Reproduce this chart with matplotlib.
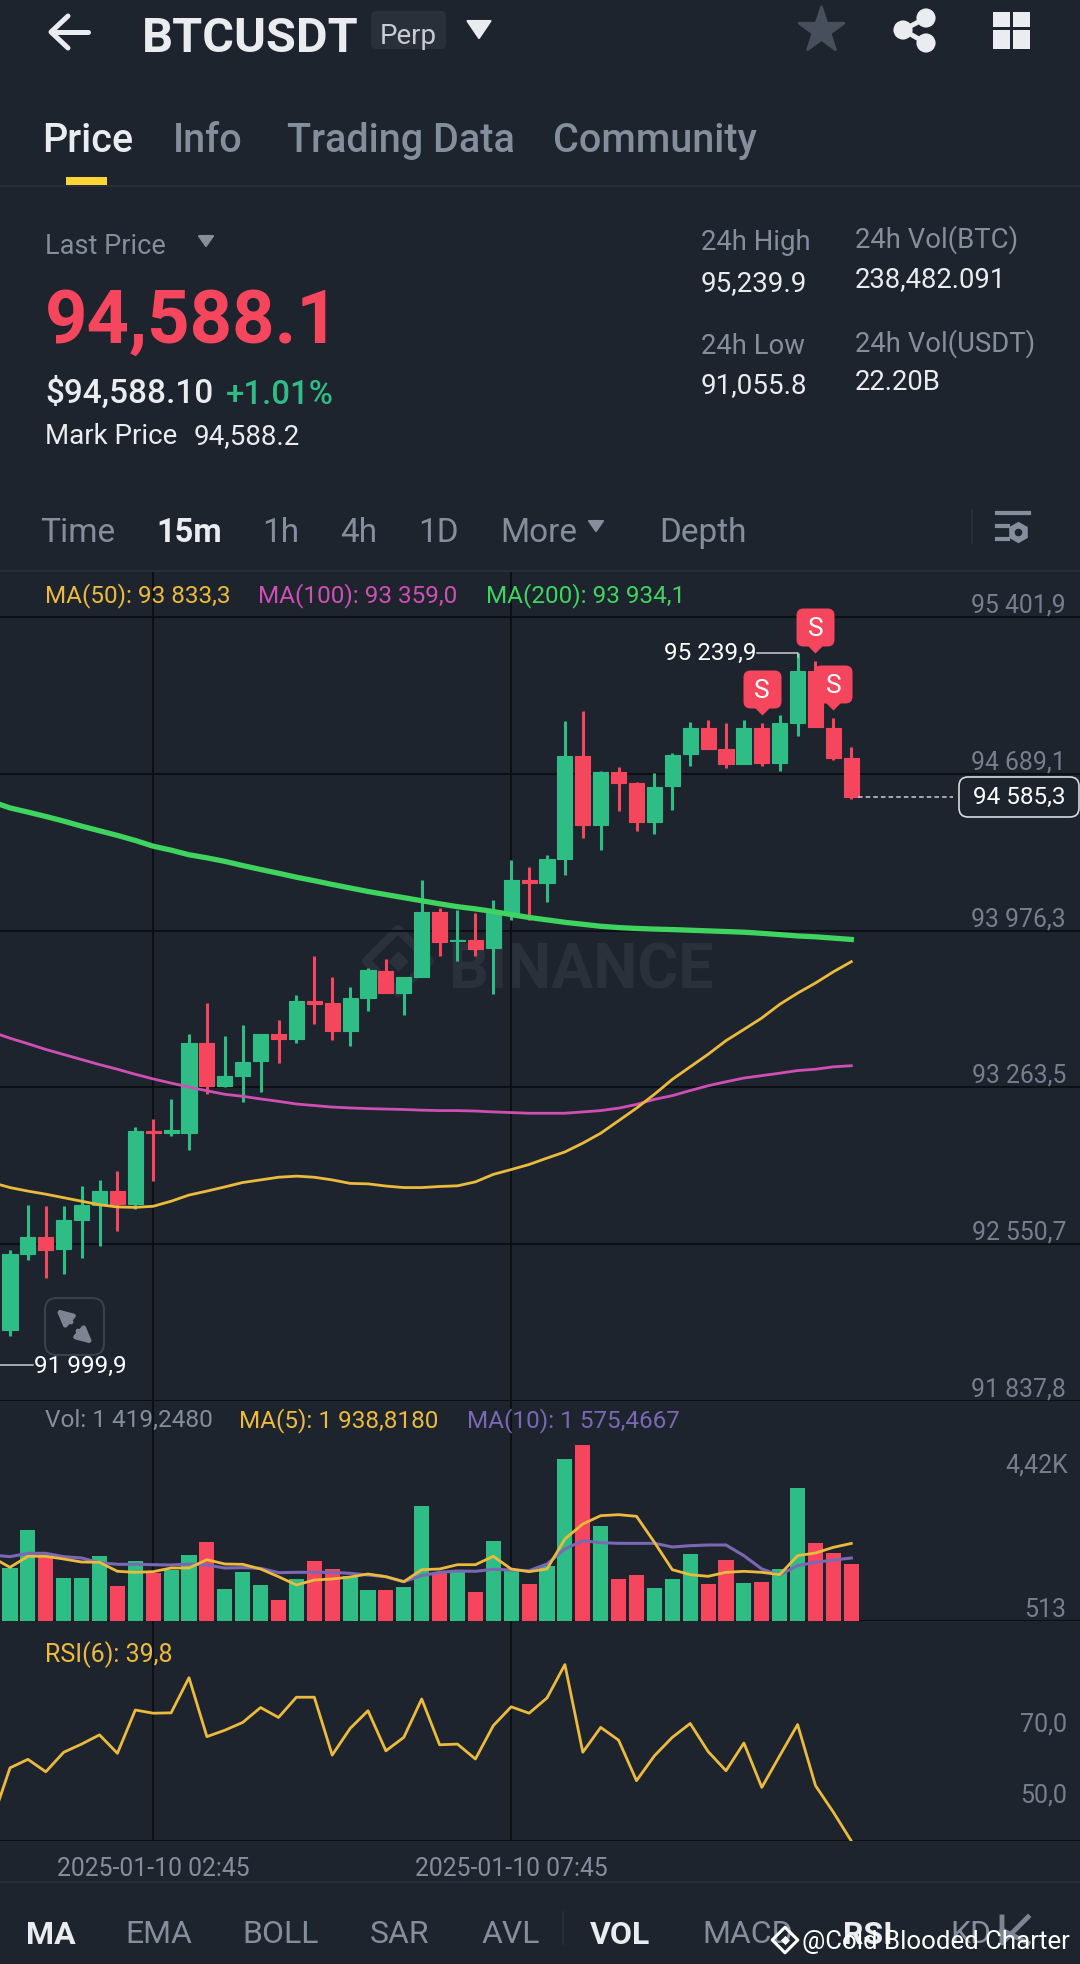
import matplotlib
matplotlib.use("Agg")
import matplotlib.pyplot as plt
import numpy as np
from matplotlib.patches import FancyBboxPatch, Polygon, Rectangle
from matplotlib.path import Path

plt.rcParams['font.family'] = ['Roboto', 'DejaVu Sans']

BG = '#1e242e'
GRID = '#0c0f14'
SEP = '#2b3139'
GREY = '#848e9c'
WHITE = '#eaecef'
GREEN = '#2ebd85'
RED = '#f6465d'
YELLOW = '#ecbb3c'
PINK = '#d04fb4'
LIME = '#3fd45f'
PURPLE = '#7a68b5'
DIM = '#767f8d'

opens = [92160, 92507, 92584, 92528, 92662, 92727, 92792, 92732, 93063, 93054, 93058, 93466,
         93269, 93316, 93383, 93508, 93485, 93654, 93649, 93522, 93668, 93793, 93691, 93767,
         94061, 93927, 93934, 93895, 94057, 94205, 94194, 94302, 94771, 94458, 94695, 94645,
         94471, 94632, 94777, 94897, 94804, 94735, 94898, 94739, 94922, 95158, 94898, 94759]
closes = [92507, 92584, 92526, 92662, 92727, 92792, 92732, 93063, 93054, 93068, 93466, 93269,
          93313, 93380, 93508, 93485, 93654, 93642, 93522, 93668, 93795, 93691, 93765, 94061,
          93925, 93934, 93893, 94064, 94206, 94194, 94300, 94771, 94455, 94695, 94647, 94471,
          94630, 94775, 94897, 94804, 94735, 94898, 94738, 94919, 95158, 94900, 94759, 94585.3]
highs = [92526, 92727, 92723, 92723, 92815, 92843, 92885, 93084, 93121, 93209, 93505, 93649,
         93499, 93547, 93508, 93570, 93682, 93862, 93765, 93719, 93807, 93848, 93765, 94207,
         94079, 94072, 94057, 94114, 94299, 94266, 94322, 94928, 94974, 94700, 94720, 94653,
         94692, 94783, 94924, 94934, 94922, 94934, 94922, 94957, 95239.9, 95202, 94945, 94809]
lows = [92132, 92479, 92396, 92415, 92486, 92542, 92611, 92711, 92836, 93042, 92977, 93232,
        93267, 93195, 93244, 93376, 93466, 93552, 93478, 93450, 93612, 93691, 93594, 93765,
        93860, 93837, 93860, 93690, 94026, 94023, 94105, 94228, 94399, 94343, 94521, 94427,
        94417, 94526, 94723, 94804, 94715, 94735, 94726, 94704, 94862, 94900, 94753, 94574]

# the averages start one bar left of the first candle, off the edge
ma50 = [92831, 92808, 92792, 92778, 92762, 92746, 92730, 92720, 92718, 92723, 92746, 92774, 92792,
        92811, 92831, 92843, 92855, 92860, 92855, 92843, 92827, 92825, 92815, 92808, 92808, 92813,
        92816, 92834, 92868, 92890, 92913, 92942, 92970, 93010, 93055, 93112, 93169, 93232, 93300,
        93357, 93414, 93476, 93527, 93579, 93641, 93692, 93738, 93789, 93835]
ma100 = [93515, 93487, 93462, 93436, 93413, 93390, 93367, 93346, 93323, 93302, 93283, 93265, 93248,
         93232, 93223, 93211, 93200, 93188, 93181, 93174, 93170, 93167, 93165, 93163, 93160, 93158,
         93158, 93156, 93152, 93149, 93146, 93146, 93146, 93152, 93158, 93169, 93186, 93209, 93226,
         93249, 93271, 93289, 93306, 93317, 93328, 93340, 93346, 93357, 93362]
ma200 = [94562, 94534, 94515, 94495, 94474, 94451, 94430, 94409, 94386, 94360, 94342, 94321, 94307,
         94291, 94272, 94254, 94237, 94219, 94203, 94186, 94170, 94154, 94140, 94126, 94112, 94098,
         94085, 94075, 94063, 94049, 94036, 94025, 94014, 94005, 93996, 93990, 93986, 93983, 93981,
         93978, 93975, 93972, 93969, 93964, 93958, 93952, 93948, 93942, 93936]

volumes = [1333, 2275, 1633, 1067, 1083, 1617, 867, 1492, 1192, 1275, 1650, 1967, 800, 1217, 908, 525,
           1050, 1492, 1300, 1133, 767, 767, 842, 2875, 1192, 1217, 725, 2000, 1258, 917, 1383, 4042,
           4400, 2375, 1042, 1142, 817, 1050, 1683, 925, 1525, 950, 967, 1300, 3325, 1942, 1692, 1419]
vol_ma5 = [1592, 1342, 1617, 1617, 1550, 1475, 1467, 1242, 1217, 1233, 1325, 1325, 1533, 1425, 1417,
           1300, 1108, 900, 1025, 1050, 1100, 1175, 1108, 983, 1283, 1300, 1408, 1408, 1617, 1300,
           1233, 1300, 2050, 2425, 2633, 2658, 2617, 1967, 1283, 1158, 1117, 1217, 1242, 1217, 1158,
           1633, 1700, 1842, 1939]
vol_ma10 = [1650, 1608, 1692, 1692, 1608, 1575, 1458, 1417, 1417, 1408, 1400, 1425, 1400, 1325, 1333,
            1317, 1208, 1217, 1217, 1217, 1192, 1150, 1108, 983, 1133, 1217, 1250, 1242, 1292, 1275,
            1258, 1425, 1800, 2008, 1958, 1942, 1942, 1942, 1850, 1883, 1900, 1900, 1633, 1300, 1150,
            1383, 1467, 1525, 1575]
rsi = [45.5, 60.4, 62.8, 59.3, 64.8, 67.1, 69.7, 64.5, 76.7, 75.8, 75.9, 85.8, 69.2, 71.0, 73.2, 77.4,
       74.6, 80.3, 80.3, 64.0, 71.5, 76.5, 65.2, 69.0, 79.8, 66.9, 67.1, 62.9, 72.3, 77.6, 75.8, 80.1,
       89.5, 64.8, 71.8, 68.2, 56.8, 63.8, 69.0, 72.9, 65.0, 59.6, 67.4, 54.9, 63.8, 72.6, 55.4, 47.9, 39.8]

price_ticks = [95401.9, 94689.1, 93976.3, 93263.5, 92550.7, 91837.8]
time_ticks = [8, 28]
time_labels = ['2025-01-10 02:45', '2025-01-10 07:45']
sell_bars = [42, 45, 46]


def dotted(v):
  return f"{v:,.1f}".replace(",", " ").replace(".", ",")


W, H = 1080, 1965
fig = plt.figure(figsize=(W / 100, H / 100), dpi=100, facecolor=BG)

ui = fig.add_axes([0, 0, 1, 1], zorder=0)
ui.set_xlim(0, W)
ui.set_ylim(H, 0)
ui.axis('off')
# texts that sit over the chart lines
ov = fig.add_axes([0, 0, 1, 1], zorder=10)
ov.patch.set_visible(False)
ov.set_xlim(0, W)
ov.set_ylim(H, 0)
ov.axis('off')


def pane(top, bottom):
  a = fig.add_axes([0, 1 - bottom / H, 1, (bottom - top) / H], zorder=5)
  a.patch.set_visible(False)
  a.set_xlim(-10 / 17.9, (W - 10) / 17.9)
  for s in a.spines.values():
    s.set_visible(False)
  a.tick_params(length=0, labelleft=False, labelbottom=False)
  a.set_xticks(time_ticks)
  a.grid(True, color=GRID, lw=1.5, zorder=0)
  a.set_axisbelow(True)
  return a


def put(x, y, s, size, color=GREY, weight='normal', ha='left', where=None):
  (where or ui).text(x, y, s, fontsize=size, color=color, fontweight=weight, ha=ha, va='center_baseline')


def tri(cx, top, w, h, color):
  ui.add_patch(Polygon([(cx - w / 2, top), (cx + w / 2, top), (cx, top + h)], fc=color, ec=color, lw=1.5, joinstyle='round'))


# header
ui.plot([52, 88], [33, 33], color=WHITE, lw=3.6, solid_capstyle='round')
ui.plot([68, 51, 68], [17, 33, 49], color=WHITE, lw=3.6, solid_capstyle='round', solid_joinstyle='round')
put(142, 34, 'BTCUSDT', 35, WHITE, 'bold')
ui.add_patch(FancyBboxPatch((371, 12), 75, 38, boxstyle='round,pad=0,rounding_size=5', fc='#2a3039', ec='none'))
put(408, 33, 'Perp', 20, '#c8cdd4', ha='center')
tri(479, 22, 23, 17, WHITE)
ui.scatter([821], [31], marker='*', s=1150, color='#474f5c', edgecolors='#474f5c', linewidths=2, joinstyle='round')
ui.plot([926, 903, 926], [19, 31, 44], color=WHITE, lw=3.5)
ui.scatter([926, 903, 926], [19, 31, 44], s=[190, 190, 190], color=WHITE, linewidths=0)
for gx, gy, gw, gh in [(993, 13, 17, 15), (1013, 13, 17, 15), (993, 31, 17, 19), (1013, 31, 17, 19)]:
  ui.add_patch(Rectangle((gx, gy), gw, gh, fc=WHITE, ec='none'))

# tabs
put(42, 137, 'Price', 28.5, WHITE, 'medium')
put(173, 137, 'Info', 28.5, GREY, 'medium')
put(287, 137, 'Trading Data', 28.5, GREY, 'medium')
put(553, 137, 'Community', 28.5, GREY, 'medium')
ui.plot([0, W], [186.5, 186.5], color=SEP, lw=1.2)
ui.add_patch(Rectangle((66, 178), 41, 8, fc='#fcd535', ec='none'))

# price block
put(45, 244, 'Last Price', 19.5)
tri(206, 237, 14, 10, GREY)
put(45, 315, '94,588.1', 53.5, RED, 'bold')
put(45, 390, '$94,588.10', 24, WHITE, 'medium')
put(226, 391, '+1.01%', 23.7, GREEN, 'medium')
put(45, 434, 'Mark Price', 20, WHITE)
put(194, 434, '94,588.2', 20, WHITE)
put(701, 239, '24h High', 19.8)
put(701, 281, '95,239.9', 20, WHITE)
put(701, 343, '24h Low', 19.8)
put(701, 383, '91,055.8', 20, WHITE)
put(855, 236, '24h Vol(BTC)', 19.8)
put(855, 277, '238,482.091', 19.8, WHITE)
put(855, 340, '24h Vol(USDT)', 19.8)
put(855, 380, '22.20B', 19.8, WHITE)

# interval row
for lx, label in [(40, 'Time'), (262, '1h'), (340, '4h'), (418, '1D'), (500, 'More'), (659, 'Depth')]:
  put(lx, 530, label, 24)
put(156, 530, '15m', 23.5, WHITE, 'bold')
tri(596, 522, 14, 10, GREY)
ui.plot([972, 972], [511, 544], color=SEP, lw=1.2)
ui.plot([997, 1029], [514, 514], color=GREY, lw=3)
ui.plot([997, 1008], [527, 527], color=GREY, lw=3)
ui.plot([997, 1008], [540, 540], color=GREY, lw=3)
ui.scatter([1018], [533], marker='h', s=240, color=GREY, linewidths=0)
ui.scatter([1018], [533], s=30, color=BG, linewidths=0)
ui.plot([0, W], [572, 572], color=SEP, lw=1.2)

# chart legends and right labels
put(45, 593, f'MA(50): {dotted(93833.3)}', 17.5, YELLOW, where=ov)
put(258, 593, f'MA(100): {dotted(93359.0)}', 17.5, PINK, where=ov)
put(486, 593, f'MA(200): {dotted(93934.1)}', 17.5, LIME, where=ov)
for t in price_ticks:
  put(1066, 617 + (95401.9 - t) / 4.546 - 14, dotted(t), 17.8, DIM, ha='right', where=ov)
put(45, 1418, 'Vol: 1 419,2480', 17.6, where=ov)
put(239, 1418, 'MA(5): 1 938,8180', 17.5, YELLOW, where=ov)
put(467, 1418, 'MA(10): 1 575,4667', 17.5, PURPLE, where=ov)
put(1068, 1463, '4,42K', 18, DIM, ha='right', where=ov)
put(1066, 1608, '513', 18, DIM, ha='right', where=ov)
put(45, 1652, 'RSI(6): 39,8', 18, YELLOW, where=ov)
put(1067, 1722, '70,0', 18, DIM, ha='right', where=ov)
put(1067, 1793, '50,0', 18, DIM, ha='right', where=ov)

# watermark sits under the candles
put(449, 965, 'BINANCE', 45, '#2b313b', 'bold')
ui.scatter([398], [962], marker='D', s=1050, facecolors='none', edgecolors='#2b313b', linewidths=6)
ui.scatter([398], [962], marker='D', s=110, color='#2b313b', linewidths=0)

# expand button
ui.add_patch(FancyBboxPatch((45, 1299), 59, 57, boxstyle='round,pad=0,rounding_size=12', fc=BG, ec='#3a414c', lw=1.5))
ui.annotate('', xy=(56, 1310), xytext=(71, 1323), arrowprops=dict(arrowstyle='-|>', color='#7d8592', lw=3.5, mutation_scale=22, shrinkA=0, shrinkB=0))
ui.annotate('', xy=(93, 1345), xytext=(78, 1332), arrowprops=dict(arrowstyle='-|>', color='#7d8592', lw=3.5, mutation_scale=22, shrinkA=0, shrinkB=0))

# candles
ax = pane(573, 1402)
ax.set_ylim(91837.8, 95401.9 + 45 * 4.546)
ax.set_yticks(price_ticks)
idx = np.arange(len(opens))
o = np.array(opens)
c = np.array(closes)
cols = [GREEN if b >= a else RED for a, b in zip(opens, closes)]
ax.vlines(idx, lows, highs, colors=cols, lw=2.2, zorder=2)
ax.bar(idx, np.abs(c - o), bottom=np.minimum(o, c), width=0.84, color=cols, edgecolor=cols, lw=0.8, zorder=3)

ma_x = np.arange(-1, len(opens))
ax.plot(ma_x, ma200, color=LIME, lw=3.8, zorder=4)
ax.plot(ma_x, ma100, color=PINK, lw=2.0, zorder=4)
ax.plot(ma_x, ma50, color=YELLOW, lw=2.0, zorder=4)

# S flags, origin of the path is the top of the wick
r = 7
l, b, rt, tp = -19, 15, 19, 53
flag = Path([(-7, b), (0, 8), (7, b), (rt - r, b), (rt, b), (rt, b + r), (rt, tp - r), (rt, tp), (rt - r, tp),
             (l + r, tp), (l, tp), (l, tp - r), (l, b + r), (l, b), (l + r, b), (-7, b)],
            [Path.MOVETO, Path.LINETO, Path.LINETO, Path.LINETO, Path.CURVE3, Path.CURVE3, Path.LINETO, Path.CURVE3,
             Path.CURVE3, Path.LINETO, Path.CURVE3, Path.CURVE3, Path.LINETO, Path.CURVE3, Path.CURVE3, Path.CLOSEPOLY])
for i in sell_bars:
  ax.plot([i], [highs[i]], marker=flag, ms=106 * 72 / 100, color=RED, mew=0, zorder=6, clip_on=False)
  ax.annotate('S', xy=(i, highs[i]), xytext=(0, 33), textcoords='offset pixels', color='white', fontsize=19, ha='center', va='center', zorder=7)

# high, low and last price tags
top_i = int(np.argmax(highs))
ax.plot([top_i - 2.25, top_i, top_i], [highs[top_i], highs[top_i], highs[top_i] - 20], color='#c8ccd2', lw=1.1, zorder=5)
ax.text(top_i - 2.3, highs[top_i], dotted(highs[top_i]), color='white', fontsize=17.5, ha='right', va='center', zorder=5)
ax.plot([-0.56, 1.3], [91999.9, 91999.9], color='#c8ccd2', lw=1.1, zorder=5)
ax.text(1.35, 91999.9, dotted(91999.9), color='white', fontsize=17.5, ha='left', va='center', zorder=5)
ax.plot([47.4, 52.7], [closes[-1], closes[-1]], color='#c8ccd2', lw=1.1, ls=(0, (3, 2)), zorder=5)
ax.annotate(dotted(closes[-1]), xy=(1019 / W, closes[-1]), xycoords=ax.get_yaxis_transform(), color='white', fontsize=17.5,
            ha='center', va='center', zorder=6)
ui.add_patch(FancyBboxPatch((959, 778), 120, 40, boxstyle='round,pad=0,rounding_size=9', fc=BG, ec='#d8dbdf', lw=1.2))

# volume
vax = pane(1402, 1622)
vax.set_ylim(0, 220 * 25)
vax.set_yticks([0])
vax.bar(idx, volumes, width=0.84, color=cols, zorder=2)
vax.plot(ma_x, vol_ma10, color=PURPLE, lw=2.2, zorder=3)
vax.plot(ma_x, vol_ma5, color=YELLOW, lw=2.0, zorder=4)

# rsi
rax = pane(1622, 1842)
rax.set_ylim(39.8, 39.8 + 220 / 3.55)
rax.set_yticks([39.8])
rax.plot(ma_x, rsi, color=YELLOW, lw=2.0, zorder=3)
rax.tick_params(labelbottom=True, pad=11, labelsize=17.8, labelcolor=GREY)
rax.set_xticklabels(time_labels)

# bottom bar
ui.plot([0, W], [1883, 1883], color=SEP, lw=1.2)
for lx, label in [(125, 'EMA'), (242, 'BOLL'), (370, 'SAR'), (481, 'AVL'), (702, 'MACD'), (950, 'KD')]:
  put(lx, 1932, label, 23)
for lx, label in [(26, 'MA'), (590, 'VOL'), (843, 'RSI')]:
  put(lx, 1932, label, 23, WHITE, 'bold')
ui.plot([563, 563], [1913, 1945], color=SEP, lw=1.2)
ui.plot([1002, 1002, 1028], [1918, 1944, 1918], color='#7d8592', lw=3.5)
ui.plot([1002, 1028], [1931, 1944], color='#7d8592', lw=3.5)

# overlay credit from the share card
ov.text(802, 1940, '@Cold Blooded Charter', color='white', fontsize=18.6, ha='left', va='center_baseline')
ov.scatter([785], [1941], marker='D', s=170, facecolors='none', edgecolors='white', linewidths=2.2)
ov.scatter([785], [1941], marker='D', s=22, color='white', linewidths=0)

fig.savefig('out.png', dpi=100, facecolor=BG)
